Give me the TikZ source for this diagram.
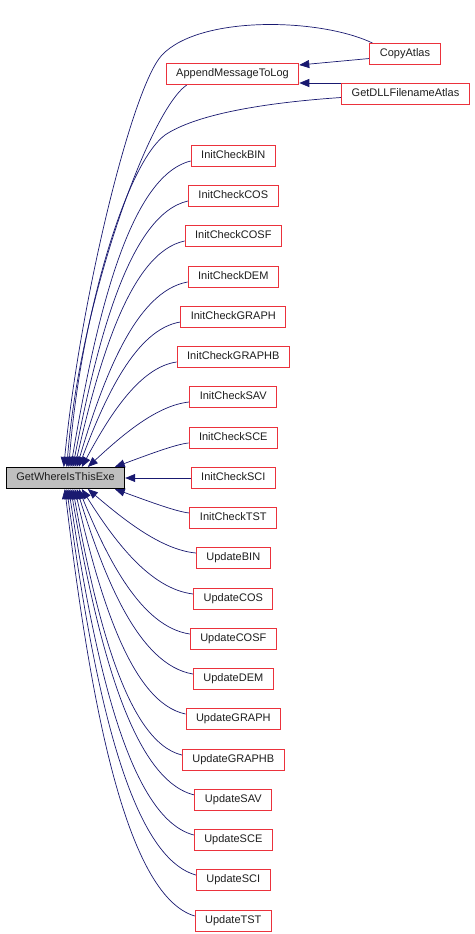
\documentclass[tikz,border=0pt]{standalone}
\usepackage{fontspec}
\setmainfont{Liberation Sans}
\usetikzlibrary{arrows.meta,calc}
\definecolor{edgeblue}{RGB}{25,25,112}
\definecolor{nodered}{RGB}{235,50,60}
\definecolor{maingray}{RGB}{191,191,191}
\definecolor{txt}{RGB}{30,30,30}
\pgfdeclarelayer{bg}
\pgfsetlayers{bg,main}
\newcommand\calledge[4]{%
  \draw[edge] let \p1=([yshift=#3pt]#1.west), \p2=([xshift=#2pt]main.#4),
    \n1={abs(\y1-\y2)}, \n2={0.62*\n1/(\n1+60)}, \n3={0.14+24/(\n1+60)} in
    (\p1) .. controls ({\x1-\n2*(\x1-\x2)},{\y1+0.05*(\y2-\y1)})
             and ({\x2+\n3*(\x1-\x2)},{\y2+0.48*(\y1-\y2)}) .. (\p2);}
\begin{document}
\begin{tikzpicture}[x=1pt,y=-1pt,
  fn/.style={draw=nodered, line width=1pt, fill=white, text=txt,
    font=\fontsize{11}{13}\selectfont, inner xsep=10pt, inner ysep=0pt,
    minimum height=21pt, text height=8pt, text depth=2.3pt},
  mainnode/.style={fn, draw=black, fill=maingray},
  edge/.style={draw=edgeblue, line width=0.7pt,
    -{Triangle[length=10pt,width=8pt,fill=edgeblue]}}]
\useasboundingbox (0,0) rectangle (474,934);

\node[mainnode] (main) at (65.5,478) {GetWhereIsThisExe};
\node[fn] (copy) at (405,54) {CopyAtlas};
\node[fn] (app) at (232.5,74) {AppendMessageToLog};
\node[fn] (dll) at (405.5,94) {GetDLLFilenameAtlas};

\foreach \nm/\lab [count=\i from 0] in {
  icbin/InitCheckBIN, iccos/InitCheckCOS, iccosf/InitCheckCOSF, icdem/InitCheckDEM,
  icgraph/InitCheckGRAPH, icgraphb/InitCheckGRAPHB, icsav/InitCheckSAV, icsce/InitCheckSCE,
  icsci/InitCheckSCI, ictst/InitCheckTST,
  ubin/UpdateBIN, ucos/UpdateCOS, ucosf/UpdateCOSF, udem/UpdateDEM,
  ugraph/UpdateGRAPH, ugraphb/UpdateGRAPHB, usav/UpdateSAV, usce/UpdateSCE,
  usci/UpdateSCI, utst/UpdateTST}
  \node[fn] (\nm) at (233.3,{round(156+40.24*\i)}) {\lab};

\begin{pgfonlayer}{bg}
% edges into AppendMessageToLog
\draw[edge] ([yshift=-4.5pt]copy.west) -- ([yshift=-2pt]app.north east);
\draw[edge] ([xshift=1pt]dll.north west) -- ([yshift=2pt]app.south east);

% long edges
\draw[edge] ([xshift=3pt]copy.north west) .. controls (320,18) and (200,15) .. (162,55)
  .. controls (132,87) and (80,300) .. ([xshift=58pt]main.north west);
\draw[edge] ([xshift=21pt]app.south west) .. controls (150,110) and (80,300)
  .. ([xshift=61pt]main.north west);
\draw[edge] ([yshift=-3.5pt]dll.west) .. controls (260,103) and (195,115) .. (165,135)
  .. controls (125,165) and (80,320) .. ([xshift=63pt]main.north west);

% upper callers
\calledge{icbin}{65}{-5}{north west}
\calledge{iccos}{67}{-5}{north west}
\calledge{iccosf}{69}{-5}{north west}
\calledge{icdem}{71}{-5}{north west}
\calledge{icgraph}{73}{-5}{north west}
\calledge{icgraphb}{76}{-5}{north west}
\calledge{icsav}{82}{-5}{north west}
\calledge{icsce}{109}{-5}{north west}

\draw[edge] (icsci.west) -- (main.east);

% lower callers
\calledge{ictst}{109}{5}{south west}
\calledge{ubin}{82}{5}{south west}
\calledge{ucos}{76}{5}{south west}
\calledge{ucosf}{73}{5}{south west}
\calledge{udem}{71}{5}{south west}
\calledge{ugraph}{69}{5}{south west}
\calledge{ugraphb}{67}{5}{south west}
\calledge{usav}{65}{5}{south west}
\calledge{usce}{63}{5}{south west}
\calledge{usci}{61}{5}{south west}
\calledge{utst}{59}{5}{south west}
\end{pgfonlayer}
\end{tikzpicture}
\end{document}
